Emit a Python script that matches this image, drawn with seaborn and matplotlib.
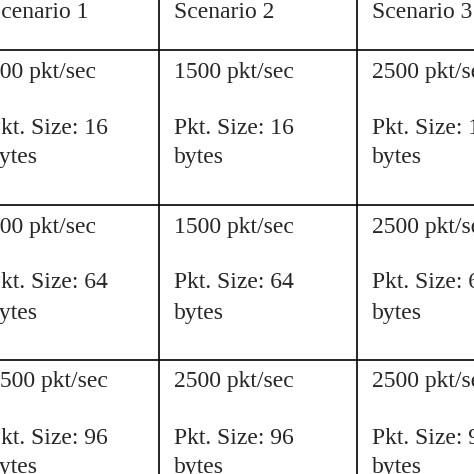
import matplotlib
matplotlib.use("Agg")
import matplotlib.pyplot as plt
import seaborn as sns

sns.set_theme(style="white")
plt.rcParams["font.family"] = ["Liberation Serif", "DejaVu Serif"]

# ── Table content ────────────────────────────
scenarios = ["Scenario 1", "Scenario 2", "Scenario 3"]
rates = [[500, 1500, 2500],
         [500, 1500, 2500],
         [1500, 2500, 2500]]
pkt_sizes = [16, 64, 96]

# ── Layout (pixels) ──────────────────────────
col_edges = [-39, 159, 357, 555]
text_x = [-12, 174, 372]
row_edges = [-10, 50, 205, 360, 520]
line_offsets = [22, 78, 108]

fig = plt.figure(figsize=(4.74, 4.74), dpi=100)
ax = fig.add_axes([0, 0, 1, 1])
ax.set_xlim(0, 474)
ax.set_ylim(474, 0)
ax.axis("off")

for x in col_edges:
    ax.vlines(x, row_edges[0], row_edges[-1], color="black", lw=1.2)
for y in row_edges:
    ax.hlines(y, col_edges[0], col_edges[-1], color="black", lw=1.2)

fs = 17
for j, name in enumerate(scenarios):
    ax.text(text_x[j], 12, name, fontsize=fs, va="center", ha="left")

for i, size in enumerate(pkt_sizes):
    top = row_edges[i + 1]
    for j in range(len(scenarios)):
        lines = [f"{rates[i][j]} pkt/sec", f"Pkt. Size: {size}", "bytes"]
        for off, s in zip(line_offsets, lines):
            ax.text(text_x[j], top + off, s, fontsize=fs, va="center", ha="left")

fig.savefig("out.png", dpi=100)
